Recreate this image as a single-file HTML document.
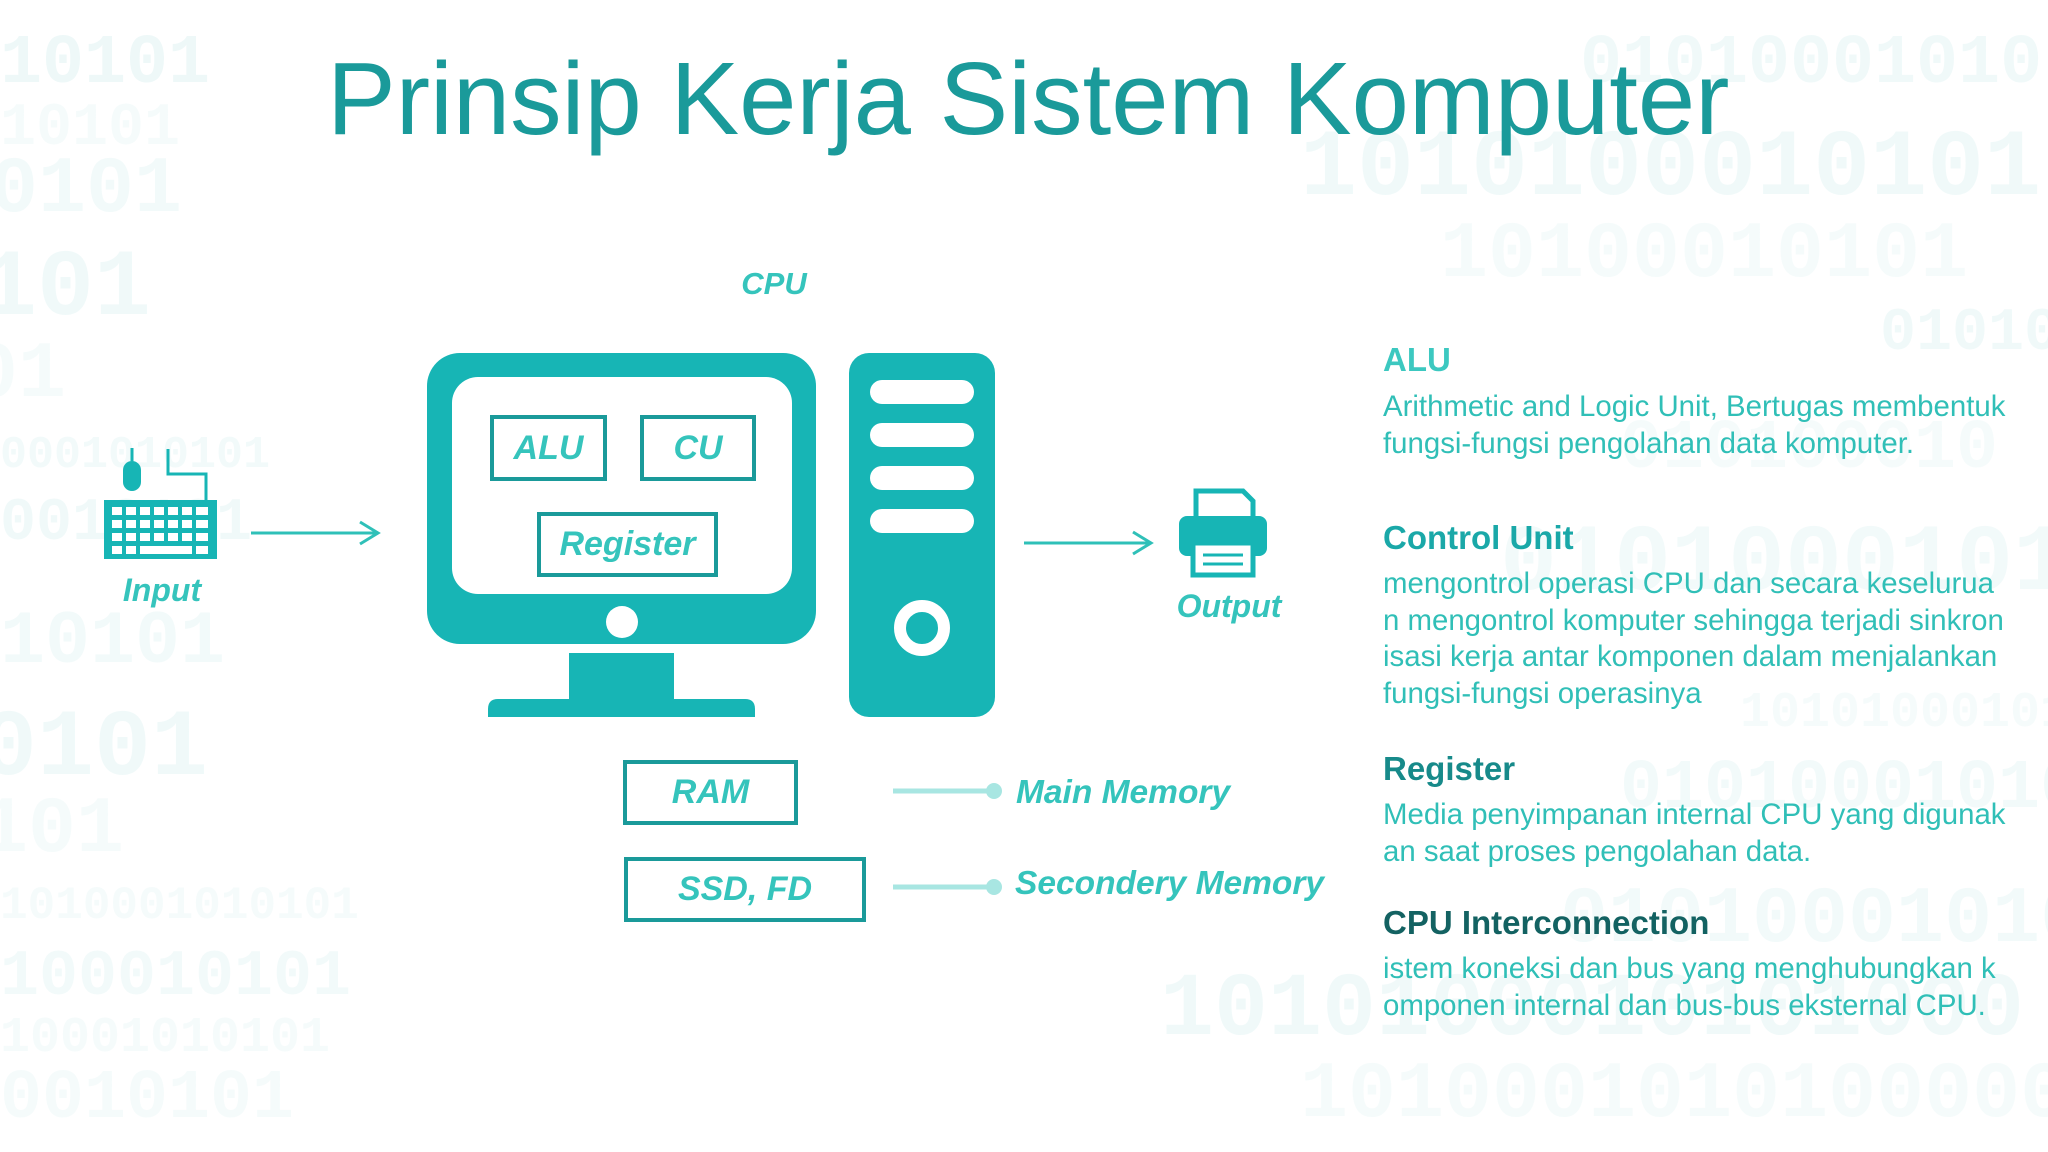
<!DOCTYPE html>
<html><head><meta charset="utf-8"><style>
body{margin:0;width:2048px;height:1152px;overflow:hidden;background:#fff;position:relative;font-family:"Liberation Sans",sans-serif}
.a{position:absolute;white-space:nowrap}
.bg{position:absolute;font-family:"Liberation Mono",monospace;color:#1aa8a8;white-space:nowrap;font-weight:bold}
.it{font-style:italic;font-weight:bold;color:#35c4bc}
.bx{position:absolute;border:4px solid #1a9a9a;box-sizing:border-box;display:flex;align-items:center;justify-content:center;font-style:italic;font-weight:bold;color:#35c4bc;font-size:34px}
.h{font-weight:bold;font-size:33px}
.p{font-size:29.4px;line-height:36.5px;color:#30bfb7}
</style></head><body>
<div class="bg" style="left:0;top:25px;font-size:70px;opacity:.07">10101</div>
<div class="bg" style="left:0;top:95px;font-size:60px;opacity:.04">10101</div>
<div class="bg" style="left:-10px;top:145px;font-size:80px;opacity:.05">0101</div>
<div class="bg" style="left:-20px;top:235px;font-size:95px;opacity:.06">101</div>
<div class="bg" style="left:-30px;top:330px;font-size:80px;opacity:.04">01</div>
<div class="bg" style="left:0;top:430px;font-size:45px;opacity:.05">0001010101</div>
<div class="bg" style="left:0;top:490px;font-size:60px;opacity:.06">0010101</div>
<div class="bg" style="left:0;top:600px;font-size:75px;opacity:.05">10101</div>
<div class="bg" style="left:-20px;top:695px;font-size:95px;opacity:.06">0101</div>
<div class="bg" style="left:-20px;top:785px;font-size:80px;opacity:.04">101</div>
<div class="bg" style="left:0;top:880px;font-size:46px;opacity:.04">1010001010101</div>
<div class="bg" style="left:0;top:940px;font-size:65px;opacity:.05">100010101</div>
<div class="bg" style="left:0;top:1010px;font-size:50px;opacity:.04">10001010101</div>
<div class="bg" style="left:0;top:1060px;font-size:70px;opacity:.04">0010101</div>
<div class="bg" style="left:1580px;top:25px;font-size:70px;opacity:.06">01010001010</div>
<div class="bg" style="left:1300px;top:115px;font-size:95px;opacity:.06">1010100010101</div>
<div class="bg" style="left:1440px;top:210px;font-size:80px;opacity:.04">10100010101</div>
<div class="bg" style="left:1880px;top:300px;font-size:60px;opacity:.06">01010</div>
<div class="bg" style="left:1620px;top:410px;font-size:70px;opacity:.04">010100010</div>
<div class="bg" style="left:1500px;top:510px;font-size:95px;opacity:.05">0101000101</div>
<div class="bg" style="left:1740px;top:685px;font-size:50px;opacity:.04">10101000101</div>
<div class="bg" style="left:1620px;top:750px;font-size:70px;opacity:.05">010100010101</div>
<div class="bg" style="left:1560px;top:875px;font-size:80px;opacity:.05">0101000101010</div>
<div class="bg" style="left:1160px;top:960px;font-size:90px;opacity:.06">1010100010101000</div>
<div class="bg" style="left:1300px;top:1050px;font-size:80px;opacity:.04">1010001010100000</div>

<div class="a" style="left:327px;top:40px;font-size:103px;color:#1a9a9a">Prinsip Kerja Sistem Komputer</div>

<div class="a it" style="left:774px;top:266px;font-size:31px;transform:translateX(-50%)">CPU</div>

<svg class="a" style="left:0;top:0" width="2048" height="1152">
 <rect x="427" y="353" width="389" height="291" rx="33" fill="#17b5b5"/>
 <rect x="452" y="377" width="340" height="217" rx="26" fill="#fff"/>
 <circle cx="622" cy="622" r="16" fill="#fff"/>
 <rect x="569" y="653" width="105" height="50" fill="#17b5b5"/>
 <path d="M488 717 V709 Q488 699 498 699 H745 Q755 699 755 709 V717 Z" fill="#17b5b5"/>
 <rect x="849" y="353" width="146" height="364" rx="20" fill="#17b5b5"/>
 <g fill="#fff"><rect x="870" y="380" width="104" height="24" rx="12"/><rect x="870" y="423" width="104" height="24" rx="12"/><rect x="870" y="466" width="104" height="24" rx="12"/><rect x="870" y="509" width="104" height="24" rx="12"/></g>
 <circle cx="922" cy="628" r="22" fill="none" stroke="#fff" stroke-width="12"/>
 <rect x="104" y="500" width="113" height="59" fill="#17b5b5"/>
 <g fill="#fff">
  <rect x="112" y="507" width="10" height="8"/><rect x="126" y="507" width="10" height="8"/><rect x="140" y="507" width="10" height="8"/><rect x="154" y="507" width="10" height="8"/><rect x="168" y="507" width="10" height="8"/><rect x="182" y="507" width="10" height="8"/><rect x="196" y="507" width="12" height="8"/>
  <rect x="112" y="520" width="10" height="8"/><rect x="126" y="520" width="10" height="8"/><rect x="140" y="520" width="10" height="8"/><rect x="154" y="520" width="10" height="8"/><rect x="168" y="520" width="10" height="8"/><rect x="182" y="520" width="10" height="8"/><rect x="196" y="520" width="12" height="8"/>
  <rect x="112" y="533" width="10" height="8"/><rect x="126" y="533" width="10" height="8"/><rect x="140" y="533" width="10" height="8"/><rect x="154" y="533" width="10" height="8"/><rect x="168" y="533" width="10" height="8"/><rect x="182" y="533" width="10" height="8"/><rect x="196" y="533" width="12" height="8"/>
  <rect x="112" y="546" width="10" height="8"/><rect x="126" y="546" width="10" height="8"/><rect x="140" y="546" width="52" height="8"/><rect x="196" y="546" width="12" height="8"/>
 </g>
 <rect x="123" y="461" width="18" height="30" rx="9" fill="#17b5b5"/>
 <line x1="132" y1="448" x2="132" y2="461" stroke="#17b5b5" stroke-width="3"/>
 <path d="M168 449 V474 H206 V500" fill="none" stroke="#17b5b5" stroke-width="3"/>
 <g stroke="#2fc0b8" stroke-width="3" fill="none">
  <line x1="251" y1="533" x2="377" y2="533"/><path d="M360 522 L378 533 L360 544"/>
  <line x1="1024" y1="543" x2="1150" y2="543"/><path d="M1133 532 L1151 543 L1133 554"/>
 </g>
 <path d="M1196 491 H1243 L1253 501 V520 H1196 Z" fill="#fff" stroke="#17b5b5" stroke-width="5"/>
 <rect x="1179" y="516" width="88" height="40" rx="8" fill="#17b5b5"/>
 <rect x="1193" y="543" width="60" height="32" fill="#fff" stroke="#17b5b5" stroke-width="5"/>
 <line x1="1203" y1="555" x2="1243" y2="555" stroke="#17b5b5" stroke-width="3"/>
 <line x1="1203" y1="564" x2="1243" y2="564" stroke="#17b5b5" stroke-width="3"/>
 <g stroke="#a8e6e2" stroke-width="5"><line x1="893" y1="791" x2="994" y2="791"/><line x1="893" y1="887" x2="994" y2="887"/></g>
 <circle cx="994" cy="791" r="8" fill="#a8e6e2"/><circle cx="994" cy="887" r="8" fill="#a8e6e2"/>
</svg>

<div class="bx" style="left:490px;top:415px;width:117px;height:66px">ALU</div>
<div class="bx" style="left:640px;top:415px;width:116px;height:66px">CU</div>
<div class="bx" style="left:537px;top:512px;width:181px;height:65px">Register</div>
<div class="bx" style="left:623px;top:760px;width:175px;height:65px">RAM</div>
<div class="bx" style="left:624px;top:857px;width:242px;height:65px">SSD, FD</div>

<div class="a it" style="left:162px;top:572px;font-size:32px;transform:translateX(-50%)">Input</div>
<div class="a it" style="left:1229px;top:588px;font-size:32px;transform:translateX(-50%)">Output</div>
<div class="a it" style="left:1016px;top:774px;font-size:33.5px">Main Memory</div>
<div class="a it" style="left:1015px;top:865px;font-size:33.5px">Secondery Memory</div>

<div class="a h" style="left:1383px;top:341px;color:#3cc8c0">ALU</div>
<div class="a p" style="left:1383px;top:389px">Arithmetic and Logic Unit, Bertugas membentuk<br>fungsi-fungsi pengolahan data komputer.</div>
<div class="a h" style="left:1383px;top:519px;color:#1aa8a8">Control Unit</div>
<div class="a p" style="left:1383px;top:566px">mengontrol operasi CPU dan secara keselurua<br>n mengontrol komputer sehingga terjadi sinkron<br>isasi kerja antar komponen dalam menjalankan<br>fungsi-fungsi operasinya</div>
<div class="a h" style="left:1383px;top:750px;color:#178a8a">Register</div>
<div class="a p" style="left:1383px;top:797px">Media penyimpanan internal CPU yang digunak<br>an saat proses pengolahan data.</div>
<div class="a h" style="left:1383px;top:904px;color:#136262">CPU Interconnection</div>
<div class="a p" style="left:1383px;top:951px">istem koneksi dan bus yang menghubungkan k<br>omponen internal dan bus-bus eksternal CPU.</div>
</body></html>
